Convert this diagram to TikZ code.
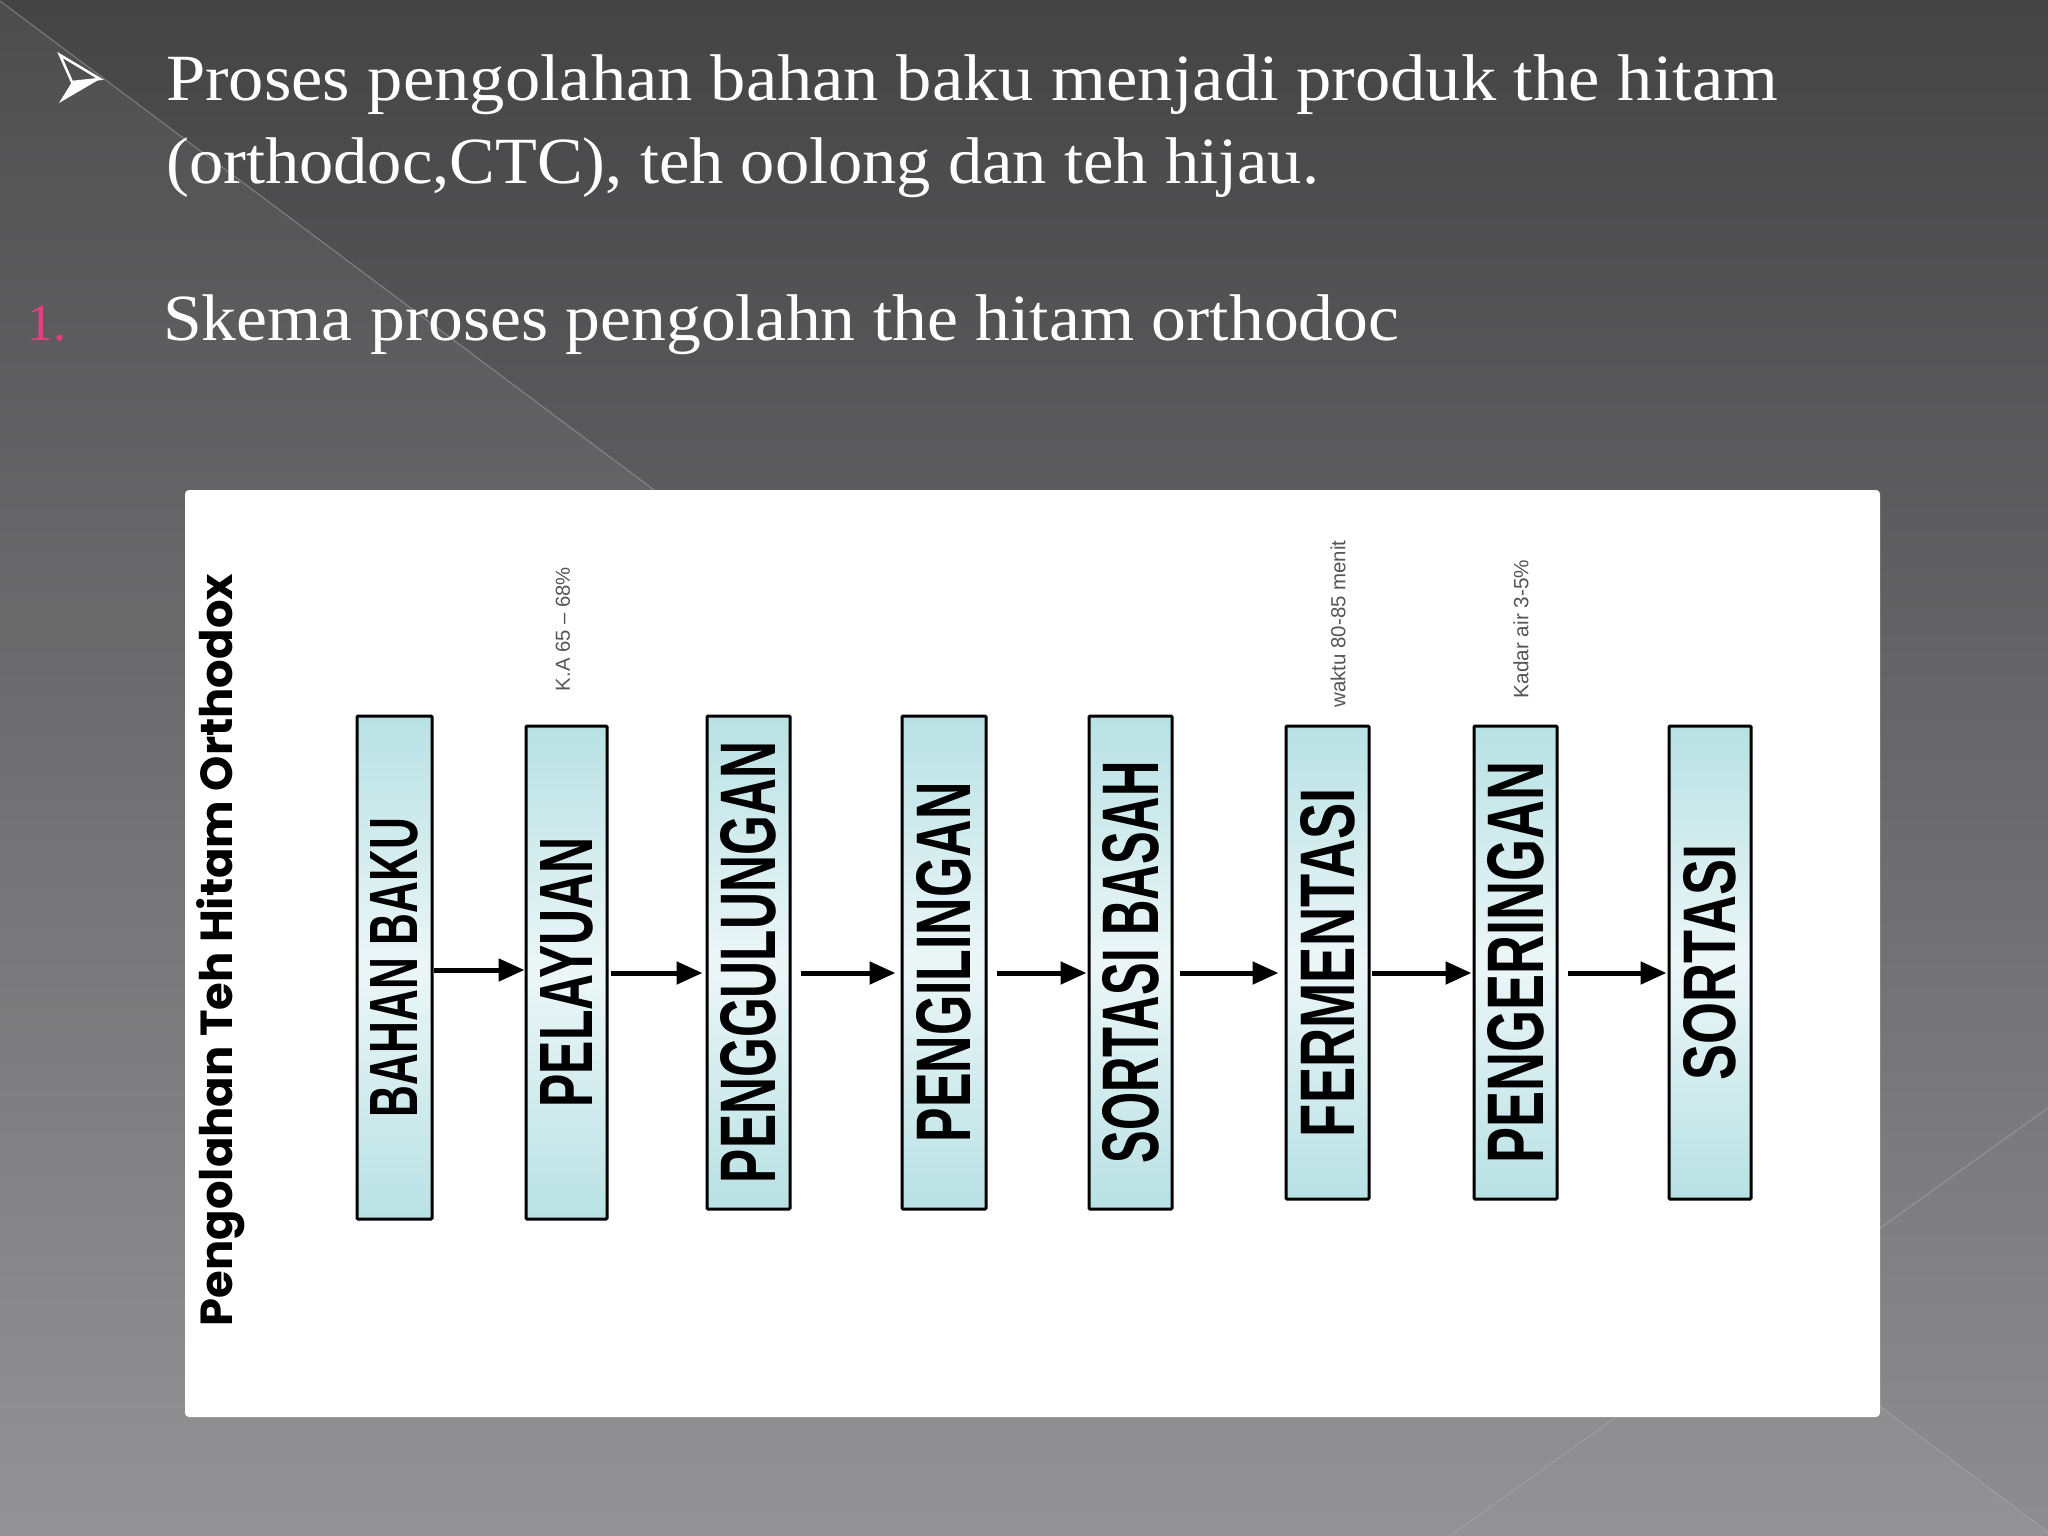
\documentclass[tikz,border=0pt]{standalone}
\usepackage{fontspec}
\setmainfont{Liberation Serif}
\newfontfamily\lblfont{Liberation Sans}
\newfontfamily\popfont{Poppins}
\usetikzlibrary{arrows.meta,calc}
\definecolor{bgtop}{RGB}{68,68,69}
\definecolor{bgbot}{RGB}{142,141,144}
\definecolor{boxcyan}{RGB}{184,225,228}
\definecolor{boxlight}{RGB}{236,246,247}
\definecolor{pinknum}{RGB}{232,62,128}
\definecolor{deco}{RGB}{175,175,178}
\definecolor{notegray}{RGB}{85,85,85}
\tikzset{
  stepbox/.style={draw=black, line width=3pt, top color=boxcyan, bottom color=boxcyan,
    middle color=boxlight, inner sep=0pt, rounded corners=1pt},
  flow/.style={line width=5pt, -{Triangle[length=26pt,width=22pt]}},
  note/.style={text=notegray, inner sep=0pt, rotate=90},
  slide/.style={text=white, inner sep=0pt, anchor=base west, font=\fontsize{66}{70}\selectfont},
  decoline/.style={draw=deco, line width=1.2pt, draw opacity=0.45},
}
\newcommand{\lbl}[3]{\rotatebox{90}{\resizebox{#1pt}{#2pt}{\lblfont\bfseries #3}}}
\newcommand{\wline}[2]{\resizebox{#1pt}{\height}{#2}}
\begin{document}
\begin{tikzpicture}[x=1pt,y=-1pt]
\useasboundingbox (0,0) rectangle (2048,1536);
% background
\shade[top color=bgtop, bottom color=bgbot] (0,0) rectangle (2048,1536);
\fill[white, opacity=0.05] (0,1) -- (2048,1532) -- (2048,1536) -- (0,1536) -- cycle;
\draw[decoline] (0,1) -- (2048,1532);
\draw[decoline] (2048,1108) -- (1450,1536);
% header text
\fill[white] (100,79) -- (72,82) -- (59,103) -- cycle;
\draw[white, line width=2.5pt, line join=miter] (100,79) -- (60,55) -- (72,82) -- cycle;
\node[slide] (l1) at (166,101) {\wline{1612}{Proses pengolahan bahan baku menjadi produk the hitam}};
\node[slide] (l2) at (166,183) {\wline{1153}{(orthodoc,CTC), teh oolong dan teh hijau.}};
\node[slide, text=pinknum, font=\fontsize{52}{56}\selectfont] (num) at (27,340) {1.};
\node[slide] (l3) at (163,340) {\wline{1236}{Skema proses pengolahn the hitam orthodoc}};
% panel
\fill[white, rounded corners=4pt] (185,490) rectangle (1880,1417);
% title
\node[rotate=90, inner sep=0pt] (title) at (221,950)
  {\resizebox{752pt}{!}{\popfont\bfseries Pengolahan Teh Hitam Orthodox}};
% boxes
\node[stepbox, minimum width=75pt, minimum height=503pt] (b1) at (394.5,967.5) {\lbl{299}{47}{BAHAN BAKU}};
\node[stepbox, minimum width=81pt, minimum height=493pt] (b2) at (566.5,972.5) {\lbl{270}{52}{PELAYUAN}};
\node[stepbox, minimum width=83pt, minimum height=493pt] (b3) at (748.5,962.5) {\lbl{441}{55}{PENGGULUNGAN}};
\node[stepbox, minimum width=84pt, minimum height=493pt] (b4) at (944,962.5) {\lbl{360}{54}{PENGILINGAN}};
\node[stepbox, minimum width=83pt, minimum height=493pt] (b5) at (1130.5,962.5) {\lbl{402}{56}{SORTASI BASAH}};
\node[stepbox, minimum width=83pt, minimum height=473pt] (b6) at (1327.5,962.5) {\lbl{349}{54}{FERMENTASI}};
\node[stepbox, minimum width=83pt, minimum height=473pt] (b7) at (1515.5,962.5) {\lbl{402}{56}{PENGERINGAN}};
\node[stepbox, minimum width=82pt, minimum height=473pt] (b8) at (1710,962.5) {\lbl{236}{52}{SORTASI}};
% notes
\node[note] (n2) at (563,629) {\resizebox{124pt}{!}{\lblfont K.A 65 – 68\%}};
\node[note] (n6) at (1338,624) {\resizebox{167pt}{!}{\lblfont waktu 80-85 menit}};
\node[note] (n7) at (1521,629) {\resizebox{138pt}{!}{\lblfont Kadar air 3-5\%}};
% arrows
\coordinate (ya) at (0,970);
\coordinate (yb) at (0,973);
\draw[flow] (b1.east |- ya) -- (b2.west |- ya);
\draw[flow, shorten <=2pt, shorten >=3pt] (b2.east |- yb) -- (b3.west |- yb);
\draw[flow, shorten <=9pt, shorten >=5pt] (b3.east |- yb) -- (b4.west |- yb);
\draw[flow, shorten <=9pt, shorten >=1pt] (b4.east |- yb) -- (b5.west |- yb);
\draw[flow, shorten <=6pt, shorten >=6pt] (b5.east |- yb) -- (b6.west |- yb);
\draw[flow, shorten <=1pt, shorten >=1pt] (b6.east |- yb) -- (b7.west |- yb);
\draw[flow, shorten <=9pt, shorten >=1pt] (b7.east |- yb) -- (b8.west |- yb);
\end{tikzpicture}
\end{document}
